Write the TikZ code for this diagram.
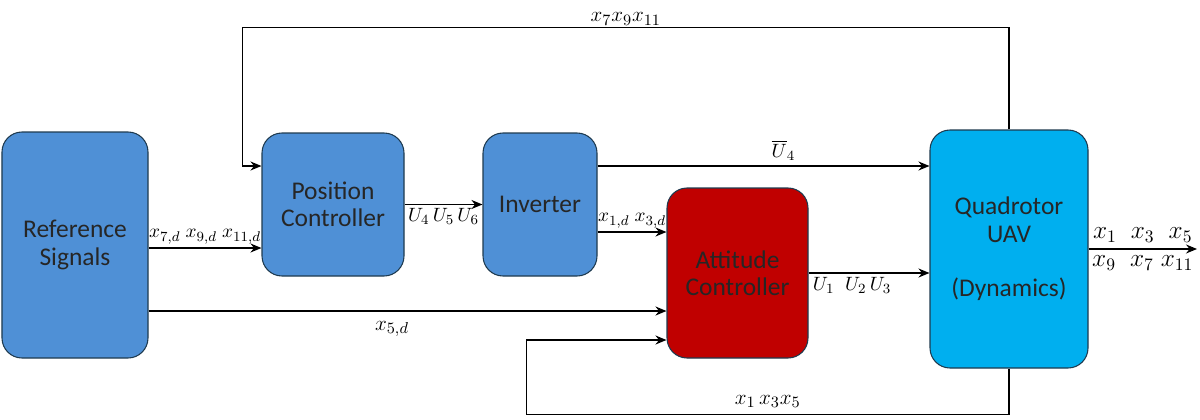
\documentclass[tikz,border=0pt]{standalone}
\usepackage{fontspec}
\setmainfont{Carlito}
\usepackage{xcolor}
\usepackage{tikz}
\usetikzlibrary{arrows.meta,positioning,calc}

\definecolor{blockblue}{HTML}{4F90D6}
\definecolor{blockred}{HTML}{C00000}
\definecolor{blockcyan}{HTML}{00AFEF}
\definecolor{blockline}{HTML}{1E3A4F}

\begin{document}
\begin{tikzpicture}[x=0.2mm,y=-0.2mm,
  every node/.style={font=\fontsize{14.5}{15.5}\selectfont},
  block/.style={draw=blockline,line width=0.6pt,rounded corners=4mm,align=center,text=black!85},
  sig/.style={-{Stealth[length=2.2mm,width=1.8mm]},line width=0.8pt},
  lbl/.style={font=\fontsize{11}{13}\selectfont,inner sep=2pt}]
  \useasboundingbox (0,0) rectangle (1200,419);

  \node[block,fill=blockblue,minimum width=29.2mm,minimum height=45.2mm] (ref) at (75,245)
    {Reference\\Signals};
  \node[block,fill=blockblue,minimum width=28.4mm,minimum height=28.6mm] (pos) at (333,204.5)
    {Position\\Controller};
  \node[block,fill=blockblue,minimum width=22.8mm,minimum height=28.6mm] (inv) at (540,204.5)
    {Inverter};
  \node[block,fill=blockred,minimum width=28.2mm,minimum height=34mm] (att) at (737.5,273)
    {Attitude\\Controller};
  \node[block,fill=blockcyan,minimum width=31.6mm,minimum height=47.6mm] (quad) at (1009,249)
    {Quadrotor\\UAV\\ \\(Dynamics)};
  \coordinate (out) at (1197,249);

  % forward path
  \draw[sig] ([yshift=-8.7mm]pos.west -| ref.east) -- ([yshift=-8.7mm]pos.west)
    node[midway,above,lbl]{$x_{7,d}\;x_{9,d}\;x_{11,d}$};
  \draw[sig] (pos.east) -- (inv.west)
    node[midway,below,lbl]{$U_4\,U_5\,U_6$};
  \draw[sig] ([yshift=7.7mm]inv.east) -- ([yshift=7.7mm]inv.east -| quad.west)
    node[pos=0.56,above=1pt,lbl]{$\overline{U}_4$};
  \draw[sig] ([yshift=-5.5mm]inv.east) -- ([yshift=-5.5mm]inv.east -| att.west)
    node[midway,above,lbl]{$x_{1,d}\;x_{3,d}$};
  \draw[sig] ([yshift=-13.2mm]ref.east) -- ([yshift=-13.2mm]ref.east -| att.west)
    node[pos=0.47,below=2pt,font=\fontsize{13}{15}\selectfont]{$x_{5,d}$};
  \draw[sig] (att.east) -- (att.east -| quad.west)
    node[pos=0.36,below,lbl]{$U_1\;\;U_2\,U_3$};
  \draw[sig] (quad.east) -- (out)
    node[midway,above,font=\fontsize{14}{16}\selectfont]{$x_1\;\;x_3\;\;x_5$}
    node[midway,below,font=\fontsize{14}{16}\selectfont]{$x_9\;\;x_7\;x_{11}$};

  % feedback loops
  \draw[sig] (quad.north) -- ++(0,-102) -| ([xshift=-3.8mm,yshift=7.7mm]pos.west)
    node[pos=0.25,above,inner sep=1pt,font=\fontsize{13}{15}\selectfont]{$x_7x_9x_{11}$}
    -- ([yshift=7.7mm]pos.west);
  \draw[sig] (quad.south) -- ++(0,46) -| ([xshift=-28mm,yshift=-13.4mm]att.west)
    node[pos=0.25,above,font=\fontsize{13}{15}\selectfont]{$x_1\,x_3x_5$}
    -- ([yshift=-13.4mm]att.west);
\end{tikzpicture}
\end{document}
